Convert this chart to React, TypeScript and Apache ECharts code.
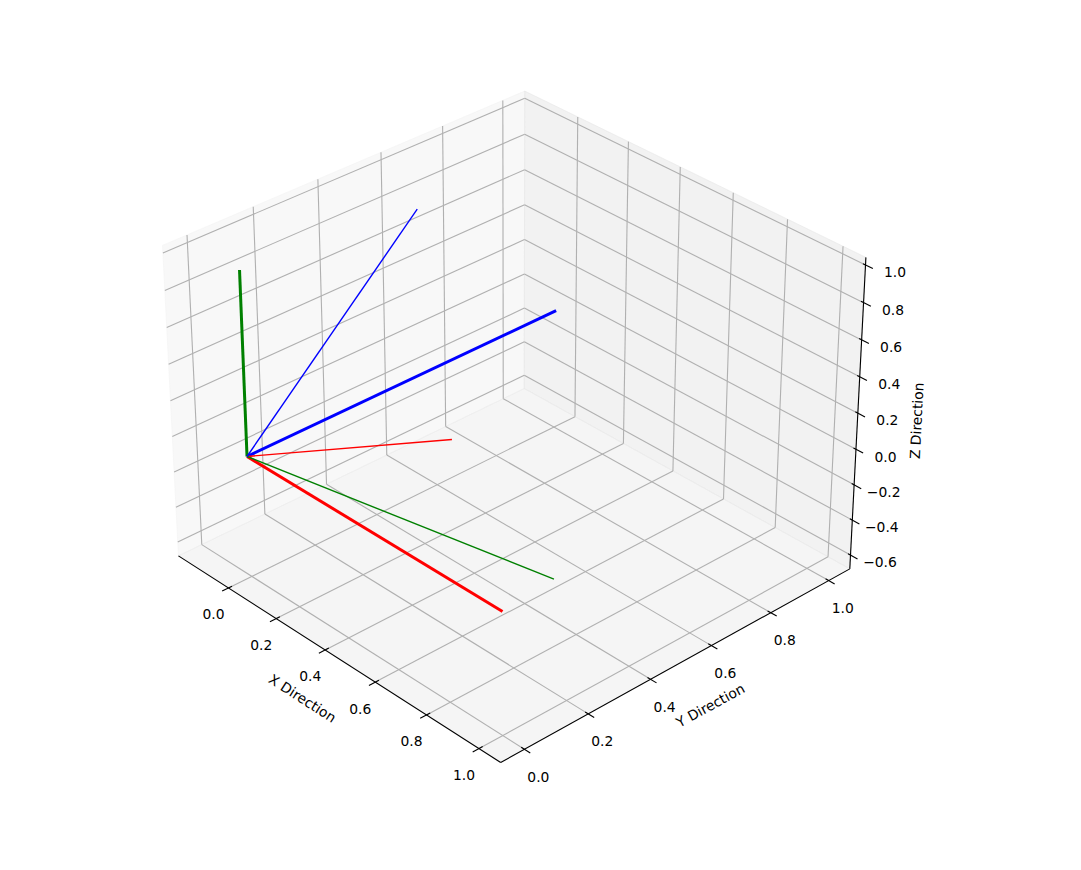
import React, { useEffect, useRef } from "react";
import * as echarts from "echarts";

const xTicks = [0, 0.2, 0.4, 0.6, 0.8, 1.0];
const yTicks = [0, 0.2, 0.4, 0.6, 0.8, 1.0];
const zTicks = [-0.6, -0.4, -0.2, 0, 0.2, 0.4, 0.6, 0.8, 1.0];
const xLim = [-0.214, 1.081];
const yLim = [-0.0728, 1.074];
const zLim = [-0.68, 1.04];

const origin = [0, 0, 0];
const thickRed = [1, 0, 0];
const thickBlue = [0, 1.005, 0];
const thickGreen = [0, 0, 1.01];
const thinRed = [0.756, 0.048, 0.663];
const thinGreen = [0.6005, 0.4954, -0.6276];
const thinBlue = [-0.135, 0.652, 0.746];

const fmt = (v: number) => (v < 0 ? "\u2212" : "") + Math.abs(v).toFixed(1);

// matplotlib-style camera
const ELEV = (31.5 * Math.PI) / 180;
const AZIM = (-43 * Math.PI) / 180;
const DIST = 10;
const SCALE = 4083;
const CX = 513.3;
const CY = 410.5;
const norm43 = Math.hypot(4, 4, 3);
const BOX = [4, 4, 3].map((v) => (v * 1.8294640721620434 * (25 / 24)) / norm43);

function project(p: number[]): [number, number] {
  const lims = [xLim, yLim, zLim];
  const P = p.map((v, i) => ((v - lims[i][0]) / (lims[i][1] - lims[i][0]) - 0.5) * BOX[i]);
  const ca = Math.cos(AZIM), sa = Math.sin(AZIM), ce = Math.cos(ELEV), se = Math.sin(ELEV);
  const u = [-sa, ca, 0];
  const v = [-se * ca, -se * sa, ce];
  const w = [ce * ca, ce * sa, se];
  const dot = (a: number[], b: number[]) => a[0] * b[0] + a[1] * b[1] + a[2] * b[2];
  const d = DIST - dot(w, P);
  return [CX + (SCALE * dot(u, P)) / d, CY - (SCALE * dot(v, P)) / d];
}

const [x0, x1] = xLim;
const [y0, y1] = yLim;
const [z0, z1] = zLim;
const xR = x1 - x0, yR = y1 - y0;

const seg = (a: number[], b: number[], color: string, width: number, z = 2) => ({
  type: "line",
  data: [project(a), project(b)],
  showSymbol: false,
  symbol: "none",
  clip: false,
  silent: true,
  z,
  lineStyle: { color, width, cap: "butt" },
});

const GRID = "#b0b0b0";

function buildSeries() {
  const out: any[] = [];
  // panes
  const panes = [
    { c: "rgba(242,242,242,0.5)", pts: [[x0, y0, z0], [x0, y1, z0], [x0, y1, z1], [x0, y0, z1]] },
    { c: "rgba(230,230,230,0.5)", pts: [[x0, y1, z0], [x1, y1, z0], [x1, y1, z1], [x0, y1, z1]] },
    { c: "rgba(236,236,236,0.5)", pts: [[x0, y0, z0], [x1, y0, z0], [x1, y1, z0], [x0, y1, z0]] },
  ];
  panes.forEach((pane) => {
    out.push({
      type: "custom",
      silent: true,
      clip: false,
      z: 1,
      data: [0],
      renderItem: (_: any, api: any) => ({
        type: "polygon",
        shape: { points: pane.pts.map((q) => api.coord(project(q))) },
        style: { fill: pane.c, stroke: pane.c, lineWidth: 1 },
      }),
    });
  });
  // grid
  xTicks.forEach((x) => {
    out.push(seg([x, y0, z0], [x, y1, z0], GRID, 1.11));
    out.push(seg([x, y1, z0], [x, y1, z1], GRID, 1.11));
  });
  yTicks.forEach((y) => {
    out.push(seg([x0, y, z0], [x1, y, z0], GRID, 1.11));
    out.push(seg([x0, y, z0], [x0, y, z1], GRID, 1.11));
  });
  zTicks.forEach((z) => {
    out.push(seg([x0, y0, z], [x0, y1, z], GRID, 1.11));
    out.push(seg([x0, y1, z], [x1, y1, z], GRID, 1.11));
  });
  // axis lines
  out.push(seg([x0, y0, z0], [x1, y0, z0], "#000", 1.11, 3));
  out.push(seg([x1, y0, z0], [x1, y1, z0], "#000", 1.11, 3));
  out.push(seg([x1, y1, z0], [x1, y1, z1], "#000", 1.11, 3));
  // ticks
  xTicks.forEach((x) =>
    out.push(seg([x, y0 - 0.017 * yR, z0], [x, y0 + 0.0097 * yR, z0], "#000", 1.11, 3))
  );
  yTicks.forEach((y) =>
    out.push(seg([x1 - 0.009 * xR, y, z0], [x1 + 0.017 * xR, y, z0], "#000", 1.11, 3))
  );
  zTicks.forEach((z) =>
    out.push(seg([x1 - 0.007 * xR, y1, z], [x1 + 0.02 * xR, y1, z], "#000", 1.11, 3))
  );
  // vectors
  out.push(seg(origin, thickRed, "#ff0000", 3, 5));
  out.push(seg(origin, thickBlue, "#0000ff", 3, 5));
  out.push(seg(origin, thickGreen, "#008000", 3, 5));
  out.push(seg(origin, thinRed, "#ff0000", 1.39, 5));
  out.push(seg(origin, thinGreen, "#008000", 1.39, 5));
  out.push(seg(origin, thinBlue, "#0000ff", 1.39, 5));

  // texts
  const labels: { t: string; p: [number, number]; r: number }[] = [];
  xTicks.forEach((x) => {
    const s = project([x, y0, z0]);
    labels.push({ t: fmt(x), p: [s[0] - 15, s[1] + 26.5], r: 0 });
  });
  yTicks.forEach((y) => {
    const s = project([x1, y, z0]);
    labels.push({ t: fmt(y), p: [s[0] + 14, s[1] + 27.5], r: 0 });
  });
  zTicks.forEach((z) => {
    const s = project([x1, y1, z]);
    labels.push({ t: fmt(z), p: [s[0] + 29.5, s[1] + 7.3], r: 0 });
  });
  const xm = project([(x0 + x1) / 2, y0, z0]);
  const ym = project([x1, (y0 + y1) / 2, z0]);
  const zm = project([x1, y1, (z0 + z1) / 2]);
  labels.push({ t: "X Direction", p: [xm[0] - 31, xm[1] + 43], r: -0.57 });
  labels.push({ t: "Y Direction", p: [ym[0] + 29, ym[1] + 43], r: 0.5 });
  labels.push({ t: "Z Direction", p: [zm[0] + 59, zm[1] + 4], r: 1.52 });
  out.push({
    type: "custom",
    silent: true,
    clip: false,
    z: 6,
    data: labels.map((_, i) => i),
    renderItem: (params: any, api: any) => {
      const l = labels[params.dataIndex];
      const c = api.coord(l.p);
      return {
        type: "text",
        x: c[0],
        y: c[1],
        rotation: l.r,
        style: {
          text: l.t,
          fontFamily: "DejaVu Sans",
          fontSize: 13.89,
          fill: "#000",
          align: "center",
          verticalAlign: "middle",
        },
      };
    },
  });
  return out;
}

export default function App() {
  const ref = useRef<HTMLDivElement>(null);
  useEffect(() => {
    document.body.style.margin = "0";
    const chart = echarts.init(ref.current!, null, { renderer: "svg" });
    chart.setOption({
      animation: false,
      backgroundColor: "#fff",
      tooltip: { show: false },
      grid: { left: 0, right: 0, top: 0, bottom: 0 },
      xAxis: { type: "value", min: 0, max: 1081, show: false },
      yAxis: { type: "value", min: 0, max: 870, inverse: true, show: false },
      series: buildSeries(),
    });
    return () => chart.dispose();
  }, []);
  return <div ref={ref} style={{ width: 1081, height: 870 }} />;
}
